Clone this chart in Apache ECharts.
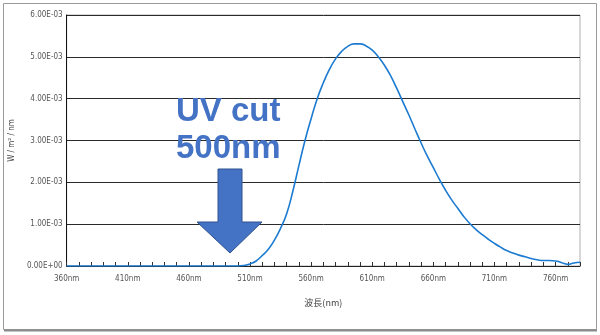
<!DOCTYPE html>
<html><head><meta charset="utf-8">
<script src="https://cdn.jsdelivr.net/npm/echarts@6/dist/echarts.min.js"></script>
<style>html,body{margin:0;padding:0;background:#fff}#c{width:600px;height:335px}</style>
</head><body><div id="c"></div>
<script>
// wavelength (nm)
const wavelengths = [360,365,370,375,380,385,390,395,400,405,410,415,420,425,430,435,440,445,450,455,460,465,470,475,480,485,490,495,500,
505,510,515,520,525,530,535,540,545,550,555,560,565,570,575,580,585,590,595,600,605,610,615,620,625,630,635,640,645,650,655,660,665,670,675,680,685,690,695,700,705,710,715,720,725,730,735,740,745,750,755,760,765,770,775,780];
// irradiance in units of 1E-03 W/m2/nm
const irradiance = [0,0,0,0,0,0,0,0,0,0,0,0,0,0,0,0,0,0,0,0,0,0,0,0,0,0,0,0,0,
0.01,0.05,0.12,0.25,0.40,0.62,0.90,1.25,1.78,2.40,3.00,3.52,4.00,4.38,4.70,4.95,5.13,5.25,5.31,5.31,5.26,5.16,5.00,4.80,4.55,4.25,3.93,3.61,3.27,2.94,2.63,2.35,2.07,1.81,1.58,1.38,1.18,1.01,0.87,0.75,0.64,0.54,0.45,0.37,0.31,0.26,0.22,0.18,0.15,0.13,0.13,0.12,0.08,0.04,0.07,0.09];
const xLabelStep = 50;
const annotationText = 'UV cut\n500nm';

const chart = echarts.init(document.getElementById('c'));
const lblFont = '"Liberation Sans Narrow","DejaVu Sans Condensed","Liberation Sans",sans-serif';
chart.setOption({
  animation: false,
  graphic: [
    {type:'rect', shape:{x:3.5,y:3.5,width:593,height:326}, style:{fill:'none',stroke:'#9a9a9a',lineWidth:1}, z:-1},
    {type:'line', shape:{x1:4,y1:330.5,x2:597,y2:330.5}, style:{stroke:'#8a8a8a',lineWidth:2}},
    {type:'text', left:176, top:93, style:{text:annotationText, fill:'#4472C4', font:'bold 33px "Liberation Sans", Arial, sans-serif', lineHeight:37}, z:10},
    {type:'polygon', shape:{points:[[218,169],[242,169],[242,222],[262,222],[230,253],[197,222],[218,222]]},
      style:{fill:'#4472C4', stroke:'#2F528F', lineWidth:1}, z:10}
  ],
  grid: {left:55, right:20, top:15, bottom:69, show:true, borderColor:'#b0b0b0', borderWidth:1},
  xAxis: {
    type:'value', min:360, max:780, interval:10,
    name:'波長(nm)', nameLocation:'middle', nameGap:32,
    nameTextStyle:{fontSize:9, color:'#444', fontFamily:'"Noto Sans CJK JP",sans-serif'},
    axisLine:{lineStyle:{color:'#222', width:1}},
    axisTick:{inside:true, length:4, lineStyle:{color:'#333'}},
    splitLine:{show:false},
    axisLabel:{margin:9, fontSize:8, color:'#555', fontFamily:lblFont,
      formatter: v => ((v - 360) % xLabelStep === 0) ? v + 'nm' : ''}
  },
  yAxis: {
    type:'value', min:0, max:6, interval:1,
    name:'W / m² / nm', nameLocation:'middle', nameGap:36,
    nameTextStyle:{fontSize:8, color:'#444', fontFamily:lblFont},
    axisLine:{show:true, lineStyle:{color:'#111', width:1}},
    axisTick:{show:false},
    splitLine:{lineStyle:{color:'#2a2a2a', width:1}},
    axisLabel:{margin:4, fontSize:8, color:'#555', fontFamily:lblFont,
      formatter: v => v === 0 ? '0.00E+00' : v.toFixed(2) + 'E-03'}
  },
  series: [{
    type:'line', data: wavelengths.map((w,i)=>[w, irradiance[i]]),
    smooth:0.5, showSymbol:false, symbol:'none',
    lineStyle:{color:'#1C7BD0', width:1.6}, z:3
  }]
});
</script></body></html>
